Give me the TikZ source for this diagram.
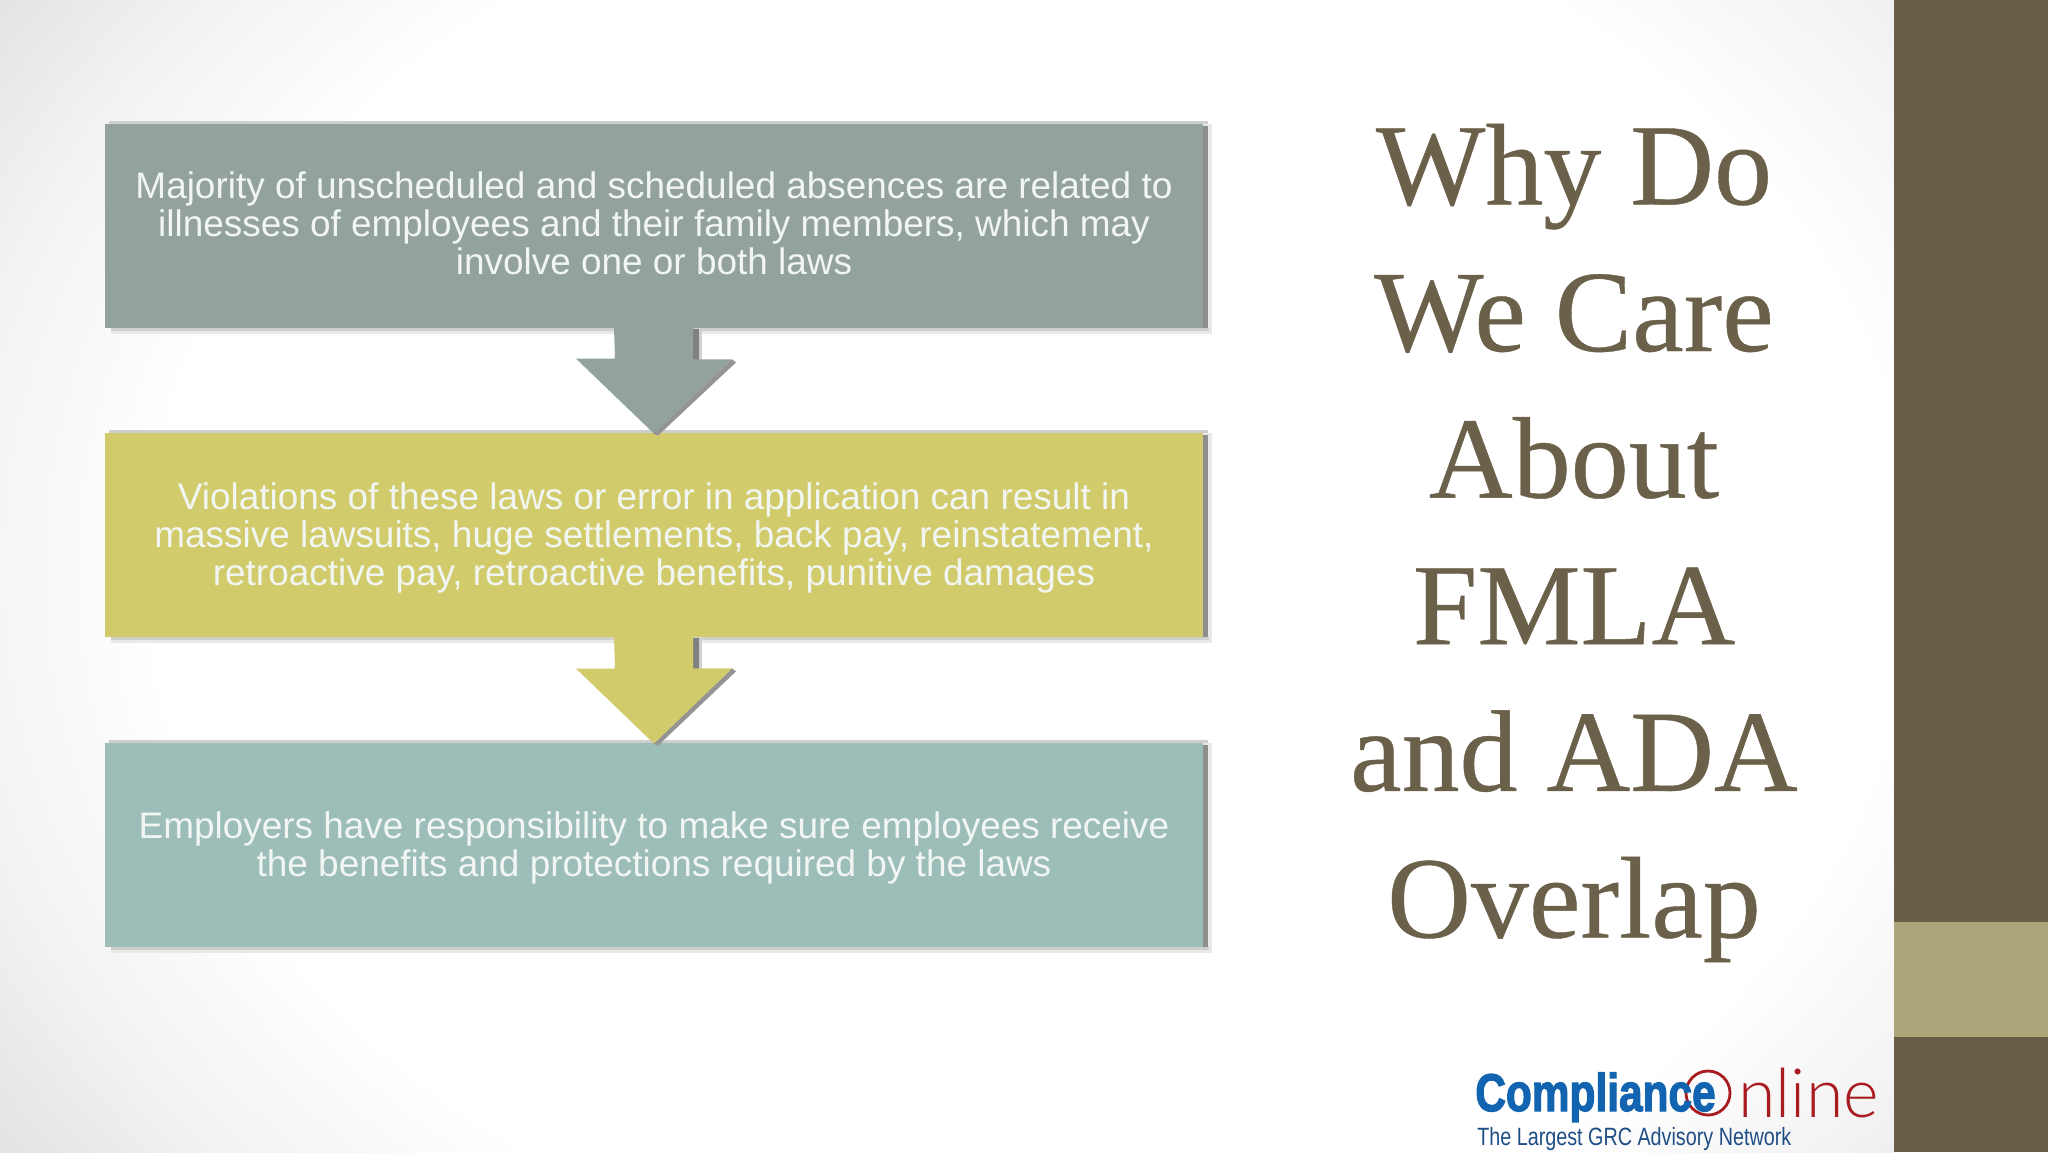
\documentclass[tikz,border=0pt]{standalone}
\usepackage{fontspec}
\setmainfont{Liberation Sans}
\newfontfamily\titlefont[FakeBold=0.35]{Liberation Serif}
\newfontfamily\thinfont{Lato Light}
\newfontfamily\heavyfont[FakeBold=2.5]{Liberation Sans Bold}
\usetikzlibrary{calc}
\definecolor{sidebar}{HTML}{695E47}
\definecolor{sideband}{HTML}{ACA67B}
\definecolor{titlecol}{HTML}{6B6049}
\definecolor{boxa}{HTML}{93A29C}
\definecolor{boxb}{HTML}{D2CB6C}
\definecolor{boxc}{HTML}{9DBDB9}
\definecolor{boxtext}{HTML}{F1F6F3}
\definecolor{edgedark}{HTML}{8E8E8C}
\definecolor{edgemid}{HTML}{CFCFCD}
\definecolor{edgelight}{HTML}{E9E9E8}
\definecolor{logoblue}{HTML}{1264B0}
\definecolor{logored}{HTML}{A81C20}
\definecolor{logonavy}{HTML}{1F4E86}
\pgfdeclareradialshading{vignette}{\pgfpoint{0bp}{0bp}}{
 color(0bp)=(white); color(17bp)=(white); color(21bp)=(black!5); color(25bp)=(black!12)}
\tikzset{
 x=0.5pt,y=-0.5pt,
 stepbox/.style={minimum width=549pt,minimum height=102pt,inner sep=0pt,text=boxtext,
   align=center,font=\fontsize{18.47pt}{19pt}\selectfont},
}
\newcommand{\stepshadow}[1]{%
 \fill[edgemid] ($(#1.north west)+(4,-3)$) rectangle ($(#1.north east)+(5,0)$);
 \fill[edgelight] ($(#1.north east)+(0,0)$) rectangle ($(#1.south east)+(9,6)$);
 \fill[edgelight] ($(#1.south west)+(6,0)$) rectangle ($(#1.south east)+(9,6)$);
 \fill[edgemid] ($(#1.south west)+(6,0)$) rectangle ($(#1.south east)+(6,3)$);
 \fill[edgedark] ($(#1.north east)+(0,2)$) rectangle ($(#1.south east)+(5,0)$);
}
\newcommand{\stepconnector}[3]{%
 \fill[black!12] ($(#1.south)+(-40,32)$) rectangle ($(#1.south)+(0,29)$);
 \fill[edgemid] ($(#1.south)+(39,1)$) rectangle ($(#1.south)+(48,32)$);
 \fill[black!50] ($(#1.south)+(39,1)$) rectangle ($(#1.south)+(45,32)$);
 \fill[black!42] ($(#1.south)+(78,31)$) -- ($(#1.south)+(82,34)$) -- ($(#2.north)+(4,3)$) -- ($(#2.north)+(-1,1)$) -- cycle;
 \fill[#3] ($(#1.south)+(-40,-1)$) -- ++(79,0) -- ++(0,32) -- ++(39,0)
   -- ($(#2.north)+(0,1)$) -- ++(-78,-75) -- ++(39,0) -- cycle;
}
\begin{document}
\begin{tikzpicture}
\useasboundingbox (0,0) rectangle (2048,1152);
\begin{scope}
\clip (0,0) rectangle (1894,1152);
\shade[shading=vignette] (1030-1290,570-1035) rectangle (1030+1290,570+1035);
\end{scope}
\fill[sidebar] (1894,0) rectangle (2048,1152);
\fill[sideband] (1894,922) rectangle (2048,1037);

\node[stepbox] (b1) at (654,226) {};
\node[stepbox] (b2) at (654,535) {};
\node[stepbox] (b3) at (654,845) {};
\stepshadow{b1}\stepshadow{b2}\stepshadow{b3}
\fill[boxa] (b1.north west) rectangle (b1.south east);
\fill[boxb] (b2.north west) rectangle (b2.south east);
\fill[boxc] (b3.north west) rectangle (b3.south east);
\stepconnector{b1}{b2}{boxa}
\stepconnector{b2}{b3}{boxb}
\node[stepbox] at ($(b1)+(0,-2.6)$) {Majority of unscheduled and scheduled absences are related to\\illnesses of employees and their family members, which may\\involve one or both laws};
\node[stepbox] at ($(b2)+(0,2.6)$) {Violations of these laws or error in application can result in\\massive lawsuits, huge settlements, back pay, reinstatement,\\retroactive pay, retroactive benefits, punitive damages};
\node[stepbox] at ($(b3)+(0,2.6)$) {Employers have responsibility to make sure employees receive\\the benefits and protections required by the laws};

\node[text=titlecol,align=center,inner sep=0pt,font=\titlefont\fontsize{58pt}{73.3pt}\selectfont] (title) at (1574,543)
 {Why Do\\We Care\\About\\FMLA\\and ADA\\Overlap};

\draw[logored,line width=1.4pt] (1708,1093) circle (22);
\node[anchor=base west,inner sep=0pt,text=logoblue,font=\heavyfont\fontsize{26.5pt}{26.5pt}\selectfont,xscale=0.8] (lgc) at (1475,1111) {Compliance};
\node[anchor=base west,inner sep=0pt,text=logored,font=\thinfont\fontsize{34pt}{34pt}\selectfont] (lgo) at (1738,1117) {nline};
\node[anchor=base west,inner sep=0pt,text=logonavy,font=\fontsize{12.5pt}{12.5pt}\selectfont,xscale=0.79] (lgs) at (1477,1145) {The Largest GRC Advisory Network};
\end{tikzpicture}
\end{document}
